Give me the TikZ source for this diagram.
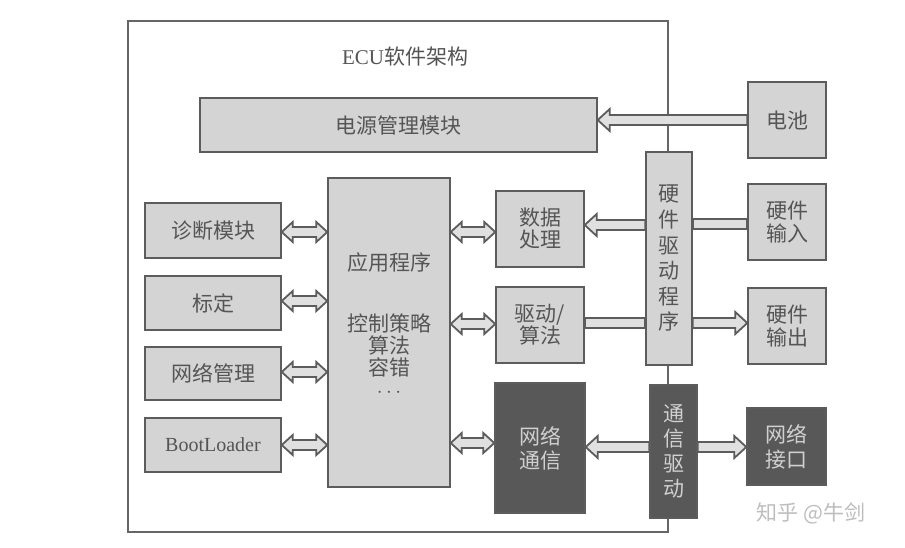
\documentclass[tikz,border=0pt]{standalone}
\usepackage{fontspec}
\setmainfont{Liberation Serif}
\newfontfamily\cjk{Noto Sans CJK SC}
\usetikzlibrary{calc,backgrounds}
\definecolor{edgec}{HTML}{5C5C5C}
\definecolor{boxf}{HTML}{D4D4D4}
\definecolor{arrf}{HTML}{E0E0E0}
\definecolor{txtc}{HTML}{555555}
\definecolor{darkf}{HTML}{585858}
\definecolor{darkt}{HTML}{D0D0D0}
\definecolor{framec}{HTML}{666666}
\definecolor{wmark}{HTML}{BDBDBD}
\tikzset{
  lbox/.style={draw=edgec, fill=boxf, line width=1.4pt, text=txtc, align=center,
    inner sep=0pt, font=\cjk\fontsize{21}{22}\selectfont},
  dbox/.style={lbox, fill=darkf, text=darkt},
  fat/.style={draw=edgec, fill=arrf, line width=1.8pt, line join=miter},
}
% single arrow: tail #1, tip #2 (horizontal)
\newcommand\sarrow[2]{\draw[fat] let \p1=(#1), \p2=(#2), \n1={sign(\x2-\x1)} in
  (\x2,\y1) -- ({\x2-(\n1)*12pt},{\y1+11pt}) -- ({\x2-(\n1)*12pt},{\y1+5pt})
  -- (\x1,{\y1+5pt}) -- (\x1,{\y1-5pt}) -- ({\x2-(\n1)*12pt},{\y1-5pt})
  -- ({\x2-(\n1)*12pt},{\y1-11pt}) -- cycle;}
% double arrow
\newcommand\darrow[2]{\draw[fat] let \p1=(#1), \p2=(#2), \n1={sign(\x2-\x1)} in
  (\x1,\y1) -- ({\x1+(\n1)*11pt},{\y1+10pt}) -- ({\x1+(\n1)*11pt},{\y1+5pt})
  -- ({\x2-(\n1)*11pt},{\y1+5pt}) -- ({\x2-(\n1)*11pt},{\y1+10pt}) -- (\x2,\y1)
  -- ({\x2-(\n1)*11pt},{\y1-10pt}) -- ({\x2-(\n1)*11pt},{\y1-5pt})
  -- ({\x1+(\n1)*11pt},{\y1-5pt}) -- ({\x1+(\n1)*11pt},{\y1-10pt}) -- cycle;}
% band without heads
\newcommand\band[2]{\draw[fat] let \p1=(#1), \p2=(#2) in
  (\x1,{\y1+5pt}) -- (\x2,{\y1+5pt}) -- (\x2,{\y1-5pt}) -- (\x1,{\y1-5pt}) -- cycle;}
\begin{document}
\begin{tikzpicture}[x=1pt,y=-1pt]
\useasboundingbox (0,0) rectangle (905,547);

\node[text=txtc, font=\cjk\fontsize{21}{22}\selectfont] (title) at (405,57) {{\rmfamily ECU}软件架构};

\node[lbox, minimum width=397pt, minimum height=54pt] (power) at (398.5,125) {电源管理模块};
\node[lbox, minimum width=78pt, minimum height=76pt] (battery) at (787,120) {电池};
\node[lbox, minimum width=46pt, minimum height=213pt, font=\cjk\fontsize{21}{25.6}\selectfont] (hwdrv) at (669,258.5) {硬\\件\\驱\\动\\程\\序};
\node[lbox, minimum width=78pt, minimum height=76pt, font=\cjk\fontsize{21}{23}\selectfont] (hwin) at (787,222) {硬件\\输入};
\node[lbox, minimum width=78pt, minimum height=76pt, font=\cjk\fontsize{21}{23}\selectfont] (hwout) at (787,326) {硬件\\输出};
\node[lbox, minimum width=88pt, minimum height=76pt] (dp) at (540,229) {数据\\处理};
\node[lbox, minimum width=88pt, minimum height=76pt] (drvalg) at (540,325) {驱动/\\算法};
\node[dbox, minimum width=90pt, minimum height=130pt, font=\cjk\fontsize{21}{24}\selectfont] (netcomm) at (540,448) {网络\\通信};
\node[dbox, minimum width=47pt, minimum height=133pt, font=\cjk\fontsize{21}{25}\selectfont] (commdrv) at (673.5,451.5) {通\\信\\驱\\动};
\node[dbox, minimum width=79pt, minimum height=77pt, font=\cjk\fontsize{21}{25}\selectfont] (netif) at (786.5,446.5) {网络\\接口};

\node[lbox, minimum width=136pt, minimum height=55pt] (diag) at (213,230.5) {诊断模块};
\node[lbox, minimum width=136pt, minimum height=54pt] (calib) at (213,303) {标定};
\node[lbox, minimum width=136pt, minimum height=53pt] (netmgmt) at (213,373.5) {网络管理};
\node[lbox, minimum width=136pt, minimum height=54pt, font=\rmfamily\fontsize{20}{22}\selectfont] (boot) at (213,445) {BootLoader};

\node[lbox, minimum width=122pt, minimum height=309pt] (app) at (389,332.5) {};
\node[text=txtc, font=\cjk\fontsize{21}{22}\selectfont] (apptitle) at (389,263) {应用程序};
\node[text=txtc, align=center, font=\cjk\fontsize{21}{22}\selectfont, anchor=north, inner sep=0pt] (apptext) at (389,314) {控制策略\\算法\\容错};
\node[text=txtc, inner sep=0pt, font=\rmfamily\fontsize{20}{20}\selectfont] (appdots) at (389,393) {$\cdots$};

\node[text=wmark, font=\cjk\fontsize{21}{21}\selectfont] (wm) at (811,513) {知乎 @牛剑};

\begin{pgfonlayer}{background}
  \fill[white] (0,0) rectangle (905,547);
  \draw[framec, line width=1.5pt] (128,21) rectangle (668,532);
  \sarrow{battery.west}{power.east |- battery.west}
  \sarrow{hwdrv.west |- 0,225}{dp.east |- 0,225}
  \band{hwin.west |- 0,224}{hwdrv.east |- 0,224}
  \band{drvalg.east |- 0,323}{hwdrv.west |- 0,323}
  \sarrow{hwdrv.east |- 0,323}{hwout.west |- 0,323}
  \sarrow{commdrv.west |- 0,447}{netcomm.east |- 0,447}
  \sarrow{commdrv.east |- 0,447}{netif.west |- 0,447}
  \darrow{diag.east |- 0,232}{app.west |- 0,232}
  \darrow{calib.east |- 0,301}{app.west |- 0,301}
  \darrow{netmgmt.east |- 0,372}{app.west |- 0,372}
  \darrow{boot.east |- 0,445}{app.west |- 0,445}
  \darrow{app.east |- 0,232}{dp.west |- 0,232}
  \darrow{app.east |- 0,324}{drvalg.west |- 0,324}
  \darrow{app.east |- 0,443}{netcomm.west |- 0,443}
\end{pgfonlayer}
\end{tikzpicture}
\end{document}
